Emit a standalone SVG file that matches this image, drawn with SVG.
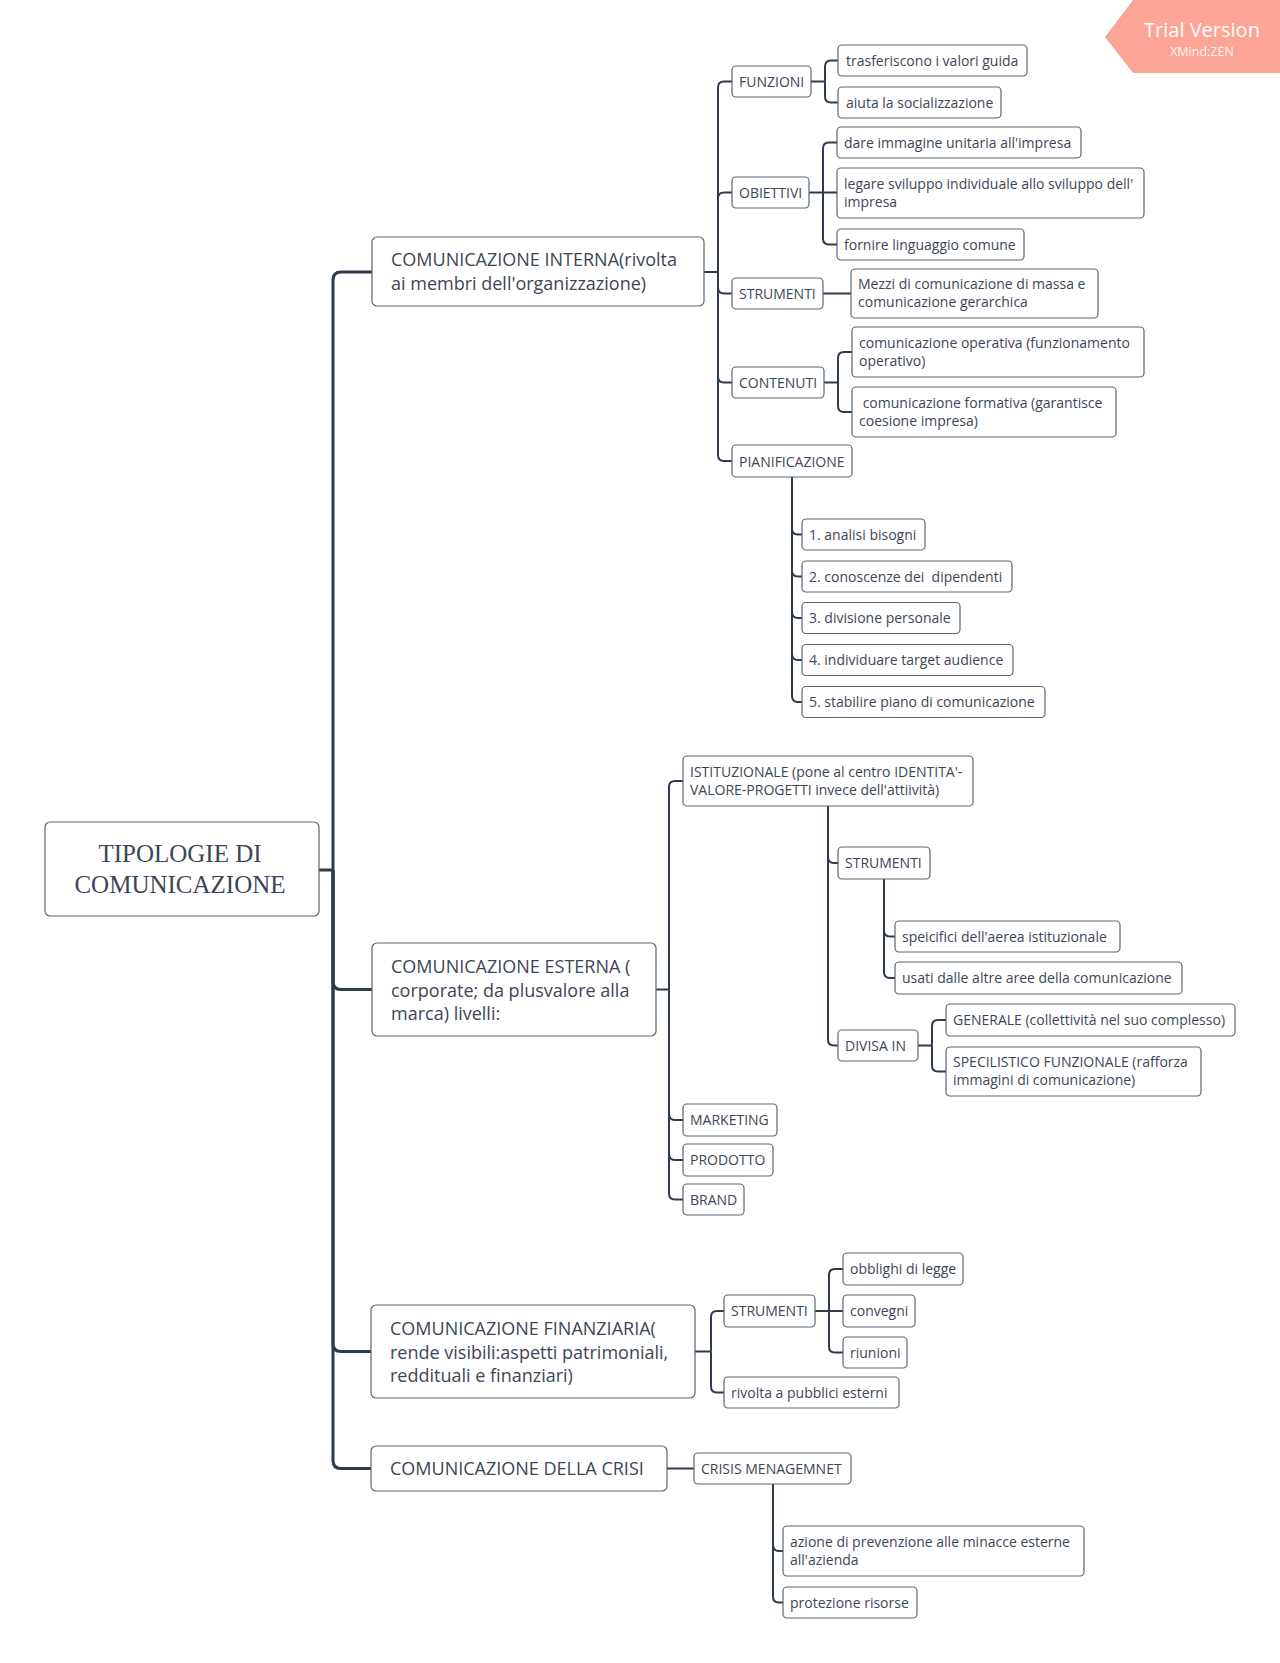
<svg xmlns="http://www.w3.org/2000/svg" width="1280" height="1663" viewBox="0 0 1280 1663">
<style>
text{font-family:"Open Sans","Liberation Sans",sans-serif;fill:#3d4656;white-space:pre}
.s{font-size:14px}
.m{font-size:18px}
.r{font-family:"Liberation Serif","DejaVu Serif",serif;font-size:25px;text-anchor:middle}
.box{fill:#fff;stroke:#5d6572;stroke-width:1.2}
.c path{fill:none;stroke:#2f3a4a;stroke-width:2}
.c .t{stroke-width:3}
</style>
<rect width="1280" height="1663" fill="#fff"/>
<g id="watermark">
<polygon points="1133,0 1280,0 1280,73 1133,73 1105,37" fill="#fca597"/>
<text x="1202" y="37" font-size="20" style="fill:#fff;text-anchor:middle">Trial Version</text>
<text x="1202" y="56" font-size="12.5" style="fill:#fff;text-anchor:middle;opacity:.9">XMind:ZEN</text>
</g>
<g class="c" id="connectors">
<path class="t" d="M319,870 H333"/>
<path class="t" d="M333,870 V280 Q333,272 341,272 H372"/>
<path class="t" d="M333,870 V981.5 Q333,989.5 341,989.5 H372"/>
<path class="t" d="M333,870 V1343.5 Q333,1351.5 341,1351.5 H371"/>
<path class="t" d="M333,870 V1460.5 Q333,1468.5 341,1468.5 H371"/>
<path d="M704,272 H718"/>
<path d="M718,272 V87.5 Q718,81.5 724,81.5 H732"/>
<path d="M718,272 V198.5 Q718,192.5 724,192.5 H732"/>
<path d="M718,272 V287.5 Q718,293.5 724,293.5 H732"/>
<path d="M718,272 V376.5 Q718,382.5 724,382.5 H732"/>
<path d="M718,272 V455 Q718,461 724,461 H732"/>
<path d="M811,81.5 H825"/>
<path d="M825,81.5 V66.5 Q825,60.5 831,60.5 H838"/>
<path d="M825,81.5 V96.5 Q825,102.5 831,102.5 H838"/>
<path d="M809,192.5 H837"/>
<path d="M823,192.5 V148.5 Q823,142.5 829,142.5 H837"/>
<path d="M823,192.5 V238.5 Q823,244.5 829,244.5 H837"/>
<path d="M823,293.5 H851"/>
<path d="M824,382.5 H838"/>
<path d="M838,382.5 V358 Q838,352 844,352 H852"/>
<path d="M838,382.5 V406 Q838,412 844,412 H852"/>
<path d="M792,477 V528.5 Q792,534.5 798,534.5 H802"/>
<path d="M792,477 V570.5 Q792,576.5 798,576.5 H802"/>
<path d="M792,477 V612 Q792,618 798,618 H802"/>
<path d="M792,477 V654 Q792,660 798,660 H802"/>
<path d="M792,477 V696 Q792,702 798,702 H802"/>
<path d="M656,989.5 H669"/>
<path d="M669,989.5 V787 Q669,781 675,781 H683"/>
<path d="M669,989.5 V1114 Q669,1120 675,1120 H683"/>
<path d="M669,989.5 V1154 Q669,1160 675,1160 H683"/>
<path d="M669,989.5 V1193.5 Q669,1199.5 675,1199.5 H683"/>
<path d="M828,806 V857 Q828,863 834,863 H838"/>
<path d="M828,806 V1039.5 Q828,1045.5 834,1045.5 H838"/>
<path d="M884,879 V930.5 Q884,936.5 890,936.5 H895"/>
<path d="M884,879 V972 Q884,978 890,978 H895"/>
<path d="M918,1045.5 H932"/>
<path d="M932,1045.5 V1026 Q932,1020 938,1020 H946"/>
<path d="M932,1045.5 V1065.5 Q932,1071.5 938,1071.5 H946"/>
<path d="M695,1351.5 H711"/>
<path d="M711,1351.5 V1317 Q711,1311 717,1311 H724"/>
<path d="M711,1351.5 V1386.5 Q711,1392.5 717,1392.5 H724"/>
<path d="M815,1311 H843"/>
<path d="M829,1311 V1275 Q829,1269 835,1269 H843"/>
<path d="M829,1311 V1346.5 Q829,1352.5 835,1352.5 H843"/>
<path d="M667,1468.5 H694"/>
<path d="M773,1484 V1545 Q773,1551 779,1551 H783"/>
<path d="M773,1484 V1596.5 Q773,1602.5 779,1602.5 H783"/>
</g>
<g id="root"><rect class="box" x="45" y="822" width="274" height="94" rx="5"/><text class="r" x="180" y="862">TIPOLOGIE DI</text><text class="r" x="180" y="893">COMUNICAZIONE</text></g>
<g id="interna"><rect class="box" x="372" y="237" width="332" height="69" rx="5"/><text class="m" x="391" y="266">COMUNICAZIONE INTERNA(rivolta</text><text class="m" x="391" y="290">ai membri dell'organizzazione)</text></g>
<g id="funzioni"><rect class="box" x="732" y="66" width="79" height="31" rx="4"/><text class="s" x="739" y="87">FUNZIONI</text></g>
<g id="trasferiscono"><rect class="box" x="838" y="45" width="189" height="31" rx="4"/><text class="s" x="846" y="66">trasferiscono i valori guida</text></g>
<g id="aiuta"><rect class="box" x="838" y="87" width="163" height="31" rx="4"/><text class="s" x="846" y="108">aiuta la socializzazione</text></g>
<g id="obiettivi"><rect class="box" x="732" y="177" width="77" height="31" rx="4"/><text class="s" x="739" y="198">OBIETTIVI</text></g>
<g id="dare"><rect class="box" x="837" y="127" width="244" height="31" rx="4"/><text class="s" x="844" y="148">dare immagine unitaria all'impresa</text></g>
<g id="legare"><rect class="box" x="837" y="168" width="307" height="50" rx="4"/><text class="s" x="844" y="189">legare sviluppo individuale allo sviluppo dell'</text><text class="s" x="844" y="207">impresa</text></g>
<g id="fornire"><rect class="box" x="837" y="229" width="187" height="31" rx="4"/><text class="s" x="844" y="250">fornire linguaggio comune</text></g>
<g id="strumenti1"><rect class="box" x="732" y="278" width="91" height="31" rx="4"/><text class="s" x="739" y="299">STRUMENTI</text></g>
<g id="mezzi"><rect class="box" x="851" y="269" width="247" height="49" rx="4"/><text class="s" x="858" y="289">Mezzi di comunicazione di massa e</text><text class="s" x="858" y="307">comunicazione gerarchica</text></g>
<g id="contenuti"><rect class="box" x="732" y="367" width="92" height="31" rx="4"/><text class="s" x="739" y="388">CONTENUTI</text></g>
<g id="operativa"><rect class="box" x="852" y="327" width="292" height="50" rx="4"/><text class="s" x="859" y="348">comunicazione operativa (funzionamento</text><text class="s" x="859" y="366">operativo)</text></g>
<g id="formativa"><rect class="box" x="852" y="387" width="264" height="50" rx="4"/><text class="s" x="859" y="408"> comunicazione formativa (garantisce</text><text class="s" x="859" y="426">coesione impresa)</text></g>
<g id="pianificazione"><rect class="box" x="732" y="445" width="120" height="32" rx="4"/><text class="s" x="739" y="467">PIANIFICAZIONE</text></g>
<g id="p1"><rect class="box" x="802" y="519" width="123" height="31" rx="4"/><text class="s" x="809" y="540">1. analisi bisogni</text></g>
<g id="p2"><rect class="box" x="802" y="561" width="210" height="31" rx="4"/><text class="s" x="809" y="582">2. conoscenze dei  dipendenti</text></g>
<g id="p3"><rect class="box" x="802" y="602.5" width="158" height="31" rx="4"/><text class="s" x="809" y="623">3. divisione personale</text></g>
<g id="p4"><rect class="box" x="802" y="644.5" width="211" height="31" rx="4"/><text class="s" x="809" y="665">4. individuare target audience</text></g>
<g id="p5"><rect class="box" x="802" y="686.5" width="243" height="31" rx="4"/><text class="s" x="809" y="707">5. stabilire piano di comunicazione</text></g>
<g id="esterna"><rect class="box" x="372" y="943" width="284" height="93" rx="5"/><text class="m" x="391" y="973">COMUNICAZIONE ESTERNA (</text><text class="m" x="391" y="997">corporate; da plusvalore alla</text><text class="m" x="391" y="1020">marca) livelli:</text></g>
<g id="istituzionale"><rect class="box" x="683" y="756" width="290" height="50" rx="4"/><text class="s" x="690" y="777">ISTITUZIONALE (pone al centro IDENTITA'-</text><text class="s" x="690" y="795">VALORE-PROGETTI invece dell'attiività)</text></g>
<g id="strumenti2"><rect class="box" x="838" y="847" width="92" height="32" rx="4"/><text class="s" x="845" y="868">STRUMENTI</text></g>
<g id="speicifici"><rect class="box" x="895" y="921" width="225" height="31" rx="4"/><text class="s" x="902" y="942">speicifici dell'aerea istituzionale</text></g>
<g id="usati"><rect class="box" x="895" y="962" width="287" height="32" rx="4"/><text class="s" x="902" y="983">usati dalle altre aree della comunicazione</text></g>
<g id="divisa"><rect class="box" x="838" y="1030" width="80" height="31" rx="4"/><text class="s" x="845" y="1051">DIVISA IN</text></g>
<g id="generale"><rect class="box" x="946" y="1004" width="289" height="32" rx="4"/><text class="s" x="953" y="1025">GENERALE (collettività nel suo complesso)</text></g>
<g id="specilistico"><rect class="box" x="946" y="1047" width="255" height="49" rx="4"/><text class="s" x="953" y="1067">SPECILISTICO FUNZIONALE (rafforza</text><text class="s" x="953" y="1085">immagini di comunicazione)</text></g>
<g id="marketing"><rect class="box" x="683" y="1104" width="94" height="32" rx="4"/><text class="s" x="690" y="1125">MARKETING</text></g>
<g id="prodotto"><rect class="box" x="683" y="1144" width="90" height="32" rx="4"/><text class="s" x="690" y="1165">PRODOTTO</text></g>
<g id="brand"><rect class="box" x="683" y="1184" width="61" height="31" rx="4"/><text class="s" x="690" y="1205">BRAND</text></g>
<g id="finanziaria"><rect class="box" x="371" y="1305" width="324" height="93" rx="5"/><text class="m" x="390" y="1335">COMUNICAZIONE FINANZIARIA(</text><text class="m" x="390" y="1359">rende visibili:aspetti patrimoniali,</text><text class="m" x="390" y="1382">reddituali e finanziari)</text></g>
<g id="strumenti3"><rect class="box" x="724" y="1295" width="91" height="32" rx="4"/><text class="s" x="731" y="1316">STRUMENTI</text></g>
<g id="obblighi"><rect class="box" x="843" y="1253" width="120" height="32" rx="4"/><text class="s" x="850" y="1274">obblighi di legge</text></g>
<g id="convegni"><rect class="box" x="843" y="1295" width="72" height="32" rx="4"/><text class="s" x="850" y="1316">convegni</text></g>
<g id="riunioni"><rect class="box" x="843" y="1337" width="64" height="31" rx="4"/><text class="s" x="850" y="1358">riunioni</text></g>
<g id="rivolta"><rect class="box" x="724" y="1377" width="175" height="31" rx="4"/><text class="s" x="731" y="1398">rivolta a pubblici esterni</text></g>
<g id="crisi"><rect class="box" x="371" y="1446" width="296" height="45" rx="5"/><text class="m" x="390" y="1475">COMUNICAZIONE DELLA CRISI</text></g>
<g id="crisis"><rect class="box" x="694" y="1453" width="157" height="31" rx="4"/><text class="s" x="701" y="1474">CRISIS MENAGEMNET</text></g>
<g id="azione"><rect class="box" x="783" y="1526" width="301" height="50" rx="4"/><text class="s" x="790" y="1547">azione di prevenzione alle minacce esterne</text><text class="s" x="790" y="1565">all'azienda</text></g>
<g id="protezione"><rect class="box" x="783" y="1587" width="134" height="31" rx="4"/><text class="s" x="790" y="1608">protezione risorse</text></g>
</svg>
